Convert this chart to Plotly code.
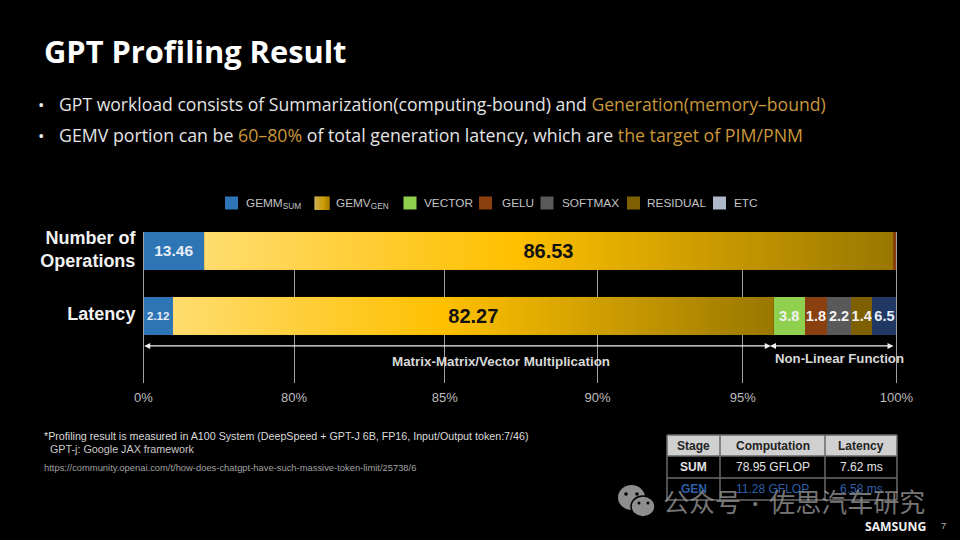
import numpy as np
import plotly.graph_objects as go

ROWS = ["Number of<br>Operations", "Latency"]
SERIES = ["GEMM", "GEMV", "VECTOR", "GELU", "SOFTMAX", "RESIDUAL", "ETC"]
# drawn lengths on the chart's broken axis (axis units, 0-100)
GEMM_W = [8.05, 3.9]
GEMV_W = [91.45, 79.8]
VECTOR_W = [None, 4.1]
GELU_W = [0.5, 3.0]
SOFTMAX_W = [None, 3.15]
RESIDUAL_W = [None, 2.85]
ETC_W = [None, 3.2]
# printed labels
GEMM_L = ["13.46", "2.12"]
GEMV_L = ["86.53", "82.27"]
VECTOR_L = [None, "3.8"]
GELU_L = [None, "1.8"]
SOFTMAX_L = [None, "2.2"]
RESIDUAL_L = [None, "1.4"]
ETC_L = [None, "6.5"]
TICK_POS = [0, 20, 40, 60.3, 79.6, 100]
TICK_TXT = ["0%", "80%", "85%", "90%", "95%", "100%"]
TABLE_HEAD = ["Stage", "Computation", "Latency"]
TABLE_STAGE = ["SUM", "GEN"]
TABLE_COMP = ["78.95 GFLOP", "11.28 GFLOP"]
TABLE_LAT = ["7.62 ms", "6.58 ms"]

SANS = "Liberation Sans, Arial, sans-serif"
SLIDE = "Open Sans, Noto Sans, sans-serif"
GOLD = "#C9973C"
W, H = 960, 540
Y_POS = [1, 0]
BAR_H = 0.585
GRAD = [[0, "#FFDC6E"], [0.45, "#FFC000"], [1, "#9A7800"]]


def px(x):
    return x / W


def py(y):
    return 1 - y / H


def grad_color(t):
    stops = [(0, (255, 220, 110)), (0.45, (255, 192, 0)), (1, (154, 120, 0))]
    for (a, ca), (b, cb) in zip(stops, stops[1:]):
        if t <= b:
            f = (t - a) / (b - a)
            return "rgb(%d,%d,%d)" % tuple(ca[i] + (cb[i] - ca[i]) * f for i in range(3))
    return "rgb(154,120,0)"


fig = go.Figure()

# gradient body of the GEMV bars
for i, yc in enumerate(Y_POS):
    x0 = GEMM_W[i]
    x1 = x0 + GEMV_W[i]
    n = 180
    fig.add_trace(go.Heatmap(
        x=np.linspace(x0, x1, n + 1), y=[yc - BAR_H / 2, yc + BAR_H / 2],
        z=[np.linspace(0, 1, n).tolist()], zmin=0, zmax=1,
        colorscale=GRAD, showscale=False, hoverinfo="skip", xaxis="x", yaxis="y",
    ))

specs = [
    ("GEMM", GEMM_W, GEMM_L, "#2E75B6", ["#E8EEF5", "#E8EEF5"], [15.5, 11.5]),
    ("GEMV", GEMV_W, GEMV_L, "rgba(0,0,0,0)", ["#111111", "#111111"], [20, 20]),
    ("VECTOR", VECTOR_W, VECTOR_L, "#8FD14F", ["#F2F2F2"] * 2, [14.5, 14.5]),
    ("GELU", GELU_W, GELU_L, "#8A3F0E", ["#F2F2F2"] * 2, [14.5, 14.5]),
    ("SOFTMAX", SOFTMAX_W, SOFTMAX_L, "#595959", ["#F2F2F2"] * 2, [14.5, 14.5]),
    ("RESIDUAL", RESIDUAL_W, RESIDUAL_L, "#7F6000", ["#F2F2F2"] * 2, [14.5, 14.5]),
    ("ETC", ETC_W, ETC_L, "#203864", ["#E8EEF5"] * 2, [14.5, 14.5]),
]
for name, w, lab, col, tcol, tsize in specs:
    fig.add_trace(go.Bar(
        name=name, orientation="h", x=w, y=Y_POS, width=BAR_H,
        marker=dict(color=col, line=dict(width=0)),
        text=[f"<b>{t}</b>" if t else None for t in lab],
        textposition="inside", insidetextanchor="middle", textangle=0,
        constraintext="none", cliponaxis=False,
        textfont=dict(family=SANS, color=tcol, size=tsize),
        showlegend=False, hoverinfo="skip",
    ))

ann = []
shapes = []


def text(x, y, s, size, color="#FFFFFF", anchor="left", font=SANS, **kw):
    # annotations carry a 2px box inset on their anchored side
    ann.append(dict(xref="paper", yref="paper", x=px(x - 2 if anchor == "left" else x), y=py(y), text=s,
                    showarrow=False, xanchor=anchor, yanchor="middle", align=anchor,
                    font=dict(family=font, size=size, color=color), **kw))


text(43.5, 51, "<b>GPT Profiling Result</b>", 30.8, "#FFFFFF", font=SLIDE)
text(38, 104, "•", 17, "#EDEDED", font=SLIDE)
text(38, 135, "•", 17, "#EDEDED", font=SLIDE)
text(59, 104, f'GPT workload consists of Summarization(computing-bound) and <span style="color:{GOLD}">Generation(memory–bound)</span>',
     17.6, "#E4E4E4", font=SLIDE)
text(59, 135, f'GEMV portion can be <span style="color:{GOLD}">60–80%</span> of total generation latency, which are <span style="color:{GOLD}">the target of PIM/PNM</span>',
     17.75, "#E4E4E4", font=SLIDE)

# legend
LEG = [
    ("GEMM<sub>SUM</sub>", 225, 246, "#2E75B6"),
    ("GEMV<sub>GEN</sub>", 314.5, 336, None),
    ("VECTOR", 403.5, 423.5, "#8FD14F"),
    ("GELU", 479, 502, "#8A3F0E"),
    ("SOFTMAX", 540.5, 562, "#595959"),
    ("RESIDUAL", 627, 647, "#7F6000"),
    ("ETC", 713, 733.5, "#ADB9CA"),
]
for lab, sx, tx, col in LEG:
    if col:
        shapes.append(dict(type="rect", xref="paper", yref="paper", x0=px(sx), x1=px(sx + 13),
                           y0=py(209.5), y1=py(196.5), fillcolor=col, line=dict(width=0)))
    else:
        for k in range(15):
            shapes.append(dict(type="rect", xref="paper", yref="paper", x0=px(sx + k), x1=px(sx + k + 1.1),
                               y0=py(210), y1=py(196.5), fillcolor=grad_color(k / 14 * 0.7), line=dict(width=0)))
    text(tx, 203.5, lab, 11.8, "#C4C4C4")

# range arrows, ends taken from the bar lengths
split = GEMM_W[1] + GEMV_W[1]
ARROW_Y = -0.46
for a, b in [(-0.1, split - 0.4), (split - 0.7, 99.6)]:
    ann.append(dict(xref="x", yref="y", axref="x", ayref="y", x=b, y=ARROW_Y, ax=a, ay=ARROW_Y, text="",
                    showarrow=True, arrowside="end+start", arrowhead=2, arrowsize=1, arrowwidth=1.2,
                    arrowcolor="#F0F0F0", standoff=0, startstandoff=0))
text(501, 361, "<b>Matrix-Matrix/Vector Multiplication</b>", 13.4, "#D8D8D8", anchor="center")
text(839, 358.5, "<b>Non-Linear Function</b>", 13.2, "#D8D8D8", anchor="center")

# footnotes
text(44, 436, "*Profiling result is measured in A100 System (DeepSpeed + GPT-J 6B, FP16, Input/Output token:7/46)", 10.7, "#DADADA")
text(50, 449, "GPT-j: Google JAX framework", 10.75, "#C8C8C8")
text(44, 467, "https://community.openai.com/t/how-does-chatgpt-have-such-massive-token-limit/25738/6", 9.4, "#A0A0A0")

# table
COL_EDGES = [667, 720, 825, 897]
ROW_EDGES = [435, 456, 478, 500]
GRID_COL = "#6A6A6A"
shapes.append(dict(type="rect", xref="paper", yref="paper", x0=px(COL_EDGES[0]), x1=px(COL_EDGES[-1]),
                   y0=py(ROW_EDGES[1]), y1=py(ROW_EDGES[0]), fillcolor="#D0D0D0", line=dict(width=0)))
for e in COL_EDGES:
    shapes.append(dict(type="line", xref="paper", yref="paper", x0=px(e), x1=px(e), y0=py(ROW_EDGES[0]), y1=py(ROW_EDGES[-1]),
                       line=dict(color=GRID_COL, width=1.5)))
for e in ROW_EDGES:
    shapes.append(dict(type="line", xref="paper", yref="paper", x0=px(COL_EDGES[0]), x1=px(COL_EDGES[-1]), y0=py(e), y1=py(e),
                       line=dict(color=GRID_COL, width=1.5)))
table_cols = [[f"<b>{TABLE_HEAD[0]}</b>"] + [f"<b>{s}</b>" for s in TABLE_STAGE],
              [f"<b>{TABLE_HEAD[1]}</b>"] + TABLE_COMP,
              [f"<b>{TABLE_HEAD[2]}</b>"] + TABLE_LAT]
row_colors = ["#222222", "#E4E4E4", "#2E5FA8"]
for c, col_vals in enumerate(table_cols):
    cx = (COL_EDGES[c] + COL_EDGES[c + 1]) / 2
    for r, val in enumerate(col_vals):
        cy = (ROW_EDGES[r] + ROW_EDGES[r + 1]) / 2
        text(cx, cy, val, 12, row_colors[r], anchor="center")

# watermark
shapes.append(dict(type="circle", xref="paper", yref="paper", x0=px(618), x1=px(645), y0=py(510), y1=py(485),
                   fillcolor="#8E8E8E", line=dict(width=0)))
shapes.append(dict(type="circle", xref="paper", yref="paper", x0=px(631), x1=px(655), y0=py(517), y1=py(496),
                   fillcolor="#8E8E8E", line=dict(color="#000000", width=1.5)))
for cx, cy, r in [(626, 494, 1.8), (637, 494, 1.8), (639, 503, 1.5), (648, 503, 1.5)]:
    shapes.append(dict(type="circle", xref="paper", yref="paper", x0=px(cx - r), x1=px(cx + r), y0=py(cy + r), y1=py(cy - r),
                       fillcolor="#000000", line=dict(width=0)))
text(663, 500, '公众号<span style="font-size:19.5px"> · </span>佐思汽车研究', 26, "rgba(150,150,150,0.78)", font="Noto Sans CJK SC")

text(895, 526, "<b>SAMSUNG</b>", 12.2, "#F0F0F0", anchor="center", font="Open Sans, sans-serif")
text(943, 525, "7", 9.5, "#B0B0B0", anchor="center")

fig.update_layout(
    width=W, height=H, autosize=False, barmode="stack", paper_bgcolor="#000000", plot_bgcolor="#000000",
    margin=dict(l=0, r=0, t=0, b=0, autoexpand=False), showlegend=False, annotations=ann, shapes=shapes,
    xaxis=dict(domain=[px(142), px(898)], range=[-0.2, 100.2], tickvals=TICK_POS, ticktext=TICK_TXT,
               showgrid=True, gridcolor="#A0A0A0", gridwidth=1.2, zeroline=False, showline=False,
               ticks="outside", ticklen=2, tickcolor="rgba(0,0,0,0)",
               tickfont=dict(family=SANS, size=13, color="#BDBDBD"), anchor="y", fixedrange=True),
    yaxis=dict(domain=[py(383), py(232)], range=[-1.031, 1.292], tickvals=Y_POS,
               ticktext=[f"<b>{r}</b>" for r in ROWS], showgrid=False, zeroline=False, showline=False,
               ticks="outside", ticklen=2, tickcolor="rgba(0,0,0,0)", ticklabelshift=-2,
               tickfont=dict(family=SANS, size=18, color="#F2F2F2"), anchor="x", fixedrange=True),
)
fig.write_html("out.html", config=dict(displayModeBar=False), default_width=960, default_height=540,
               post_script="document.documentElement.style.background='#000';document.documentElement.style.overflow='hidden';document.body.style.margin='0';document.body.style.background='#000';Plotly.Plots.resize(document.querySelector('.plotly-graph-div'));")
